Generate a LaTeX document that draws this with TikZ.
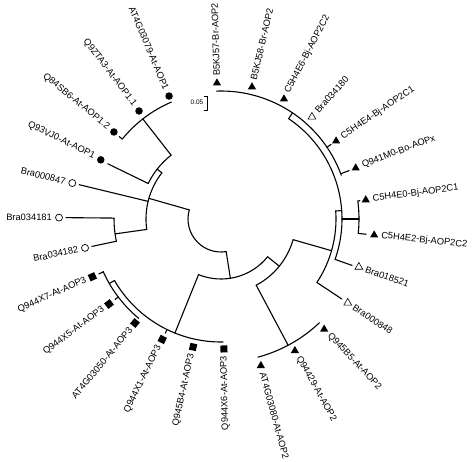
\documentclass[tikz,border=0pt]{standalone}
\usepackage{fontspec}
\setmainfont{Liberation Sans}
\usetikzlibrary{shapes.geometric}
\newcommand\carc[3]{\draw[br] (#2:#1) arc[start angle=#2, end angle=#3, radius=#1];}
\newcommand\rad[3]{\draw[br] (#1:#2) -- (#1:#3);}
% #1 name, #2 angle, #3 marker radius, #4 marker style, #5 side (R/L), #6 text
\newcommand\leaf[6]{%
  \pgfmathsetmacro\lrad{#3+7}%
  \node[#4] (#1) at (#2:#3) {};
  \if R#5
    \node[lbl, rotate=#2, anchor=west] (#1-t) at (#2:\lrad) {#6};
  \else
    \node[lbl, rotate=#2+180, anchor=east] (#1-t) at (#2:\lrad) {#6};
  \fi}
\begin{document}
\begin{tikzpicture}[x=1pt,y=1pt,
  br/.style={line width=1.1pt, line cap=round, line join=round},
  lbl/.style={font=\fontsize{9.3}{10}\selectfont, inner sep=0pt},
  tri/.style={regular polygon, regular polygon sides=3, fill=black, inner sep=0pt, minimum size=9.5pt},
  otri/.style={regular polygon, regular polygon sides=3, draw=black, fill=white, line width=0.6pt, inner sep=0pt, minimum size=9pt},
  fdot/.style={circle, fill=black, inner sep=0pt, minimum size=7.5pt},
  odot/.style={circle, draw=black, line width=0.7pt, inner sep=0pt, minimum size=7pt},
  sq/.style={rectangle, fill=black, inner sep=0pt, minimum size=7pt},
]
\useasboundingbox (-221,-242) rectangle (253,219);

% root and left clade
\carc{33}{164}{279}
\rad{164}{33}{75}
\rad{279}{33}{60}
\carc{75}{142}{188}
\rad{142}{75}{81}
\carc{81}{128}{154}
\rad{128}{81}{127}
\carc{127}{113}{141}
\rad{188}{75}{107}
\carc{107}{179.5}{192}

% lower / right clades
\carc{60}{248}{321}
\rad{321}{60}{75}
\carc{75}{298}{344}
\rad{298}{75}{143}
\carc{143}{285}{313.5}
\rad{344}{75}{115}
\carc{115}{326.5}{364}
\rad{364}{115}{121}
\carc{121}{340.5}{416}
\rad{416}{121}{128}
\carc{128}{380}{452}
\rad{360}{121}{138}
\carc{138}{354}{367.5}

% AOP3 clade
\rad{248}{60}{123}
\carc{123}{210}{271}
\rad{210}{123}{129}
\carc{129}{204}{230.4}

% leaf stubs
\rad{34.1}{128}{133}
\rad{20.7}{128}{137}
\rad{7.5}{138}{140}
\rad{-6}{138}{146}
\rad{-19.5}{121}{139}
\rad{-33.5}{115}{145}
\rad{-116}{123}{127}
\rad{-142.8}{129}{133}
\rad{-155.8}{129}{134}
\rad{192}{107}{132}
\rad{179.5}{107}{155}
\rad{166.4}{75}{146}
\rad{154}{81}{126}
\rad{141}{127}{131}

% leaves
\leaf{l1}{91.7}{136}{tri}{R}{B5KJ57-Br-AOP2}
\leaf{l2}{76.8}{135.6}{tri}{R}{B5KJ58-Br-AOP2}
\leaf{l3}{62.3}{135.5}{tri}{R}{C5H4E6-Bj-AOP2C2}
\leaf{l4}{48.3}{136.7}{otri}{R}{Bra034180}
\leaf{l5}{34.1}{139}{tri}{R}{C5H4E4-Bj-AOP2C1}
\leaf{l6}{20.7}{144}{tri}{R}{Q941M0-Bo-AOPx}
\leaf{l7}{7.5}{146}{tri}{R}{C5H4E0-Bj-AOP2C1}
\leaf{l8}{-6}{154}{tri}{R}{C5H4E2-Bj-AOP2C2}
\leaf{l9}{-19.2}{146}{otri}{R}{Bra018521}
\leaf{l10}{-33.5}{152}{otri}{R}{Bra000848}
\leaf{l11}{-46.9}{151}{tri}{R}{Q945B5-At-AOP2}
\leaf{l12}{-60.7}{151}{tri}{R}{Q94429-At-AOP2}
\leaf{l13}{-74.8}{152}{tri}{R}{AT4G03080-At-AOP2}
\leaf{l14}{-88.7}{130}{sq,rotate=-88.7}{L}{Q944X6-At-AOP3}
\leaf{l15}{-102.3}{131}{sq,rotate=-102.3}{L}{Q945B4-At-AOP3}
\leaf{l16}{-116}{134}{sq,rotate=-116}{L}{Q944X1-At-AOP3}
\leaf{l17}{-129.6}{135}{sq,rotate=-129.6}{L}{AT4G03050-At-AOP3}
\leaf{l18}{-142.8}{140.6}{sq,rotate=-142.8}{L}{Q944X5-At-AOP3}
\leaf{l19}{-155.8}{141}{sq,rotate=-155.8}{L}{Q944X7-At-AOP3}
\leaf{l20}{192}{139}{odot}{L}{Bra034182}
\leaf{l21}{179.5}{162}{odot}{L}{Bra034181}
\leaf{l22}{166.4}{153}{odot}{L}{Bra000847}
\leaf{l23}{153.8}{134}{fdot}{L}{Q93VJ0-At-AOP1}
\leaf{l24}{140.9}{138}{fdot}{L}{Q84SB6-At-AOP1.2}
\leaf{l25}{127.2}{135.6}{fdot}{L}{Q9ZTA3-At-AOP1.1}
\leaf{l26}{112.9}{133.5}{fdot}{L}{AT4G03079-At-AOP1}

% scale bar
\draw[line width=0.8pt] (-17,123) -- (-14,123) -- (-14,109) -- (-17,109);
\node[font=\fontsize{6.5}{7}\selectfont, anchor=east, inner sep=0pt] (sb) at (-17.5,117) {0.05};
\end{tikzpicture}
\end{document}
